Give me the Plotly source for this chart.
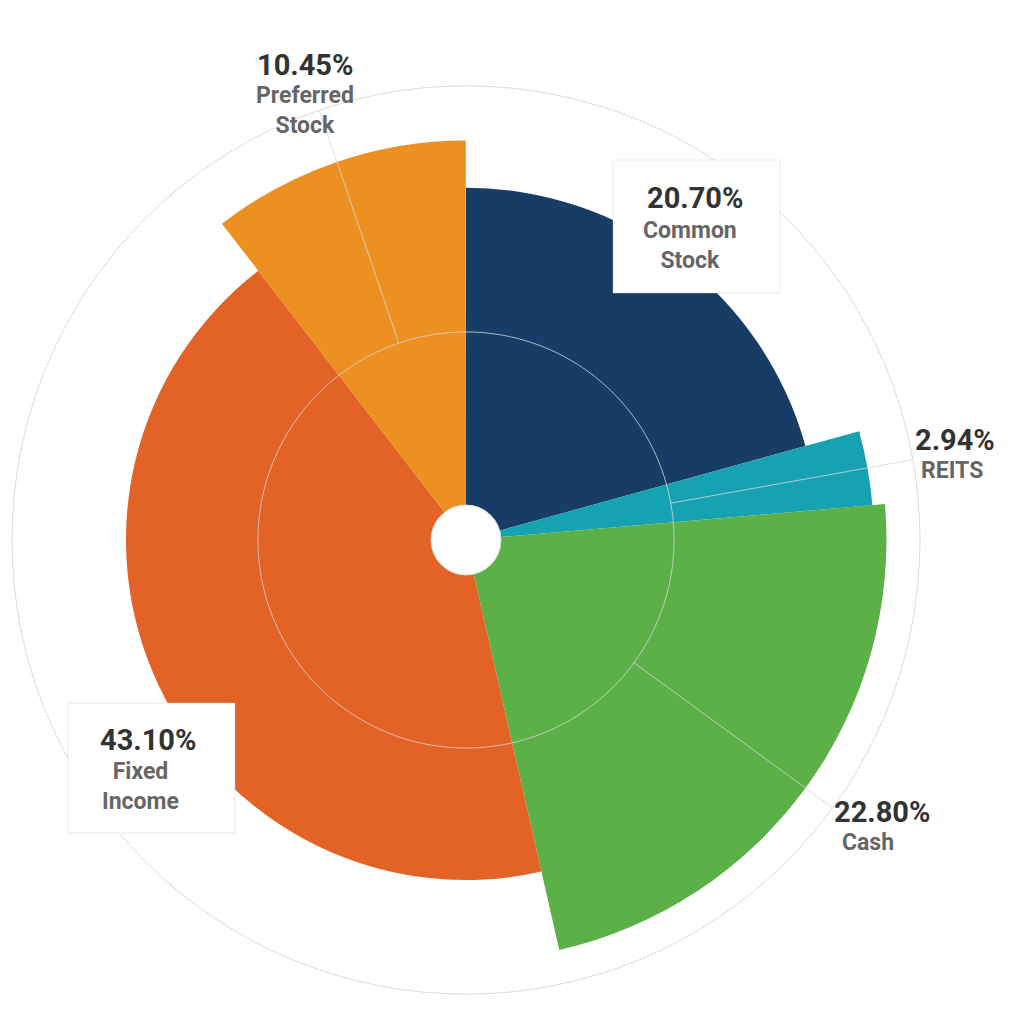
import plotly.graph_objects as go

labels = ["Common Stock", "REITS", "Cash", "Fixed Income", "Preferred Stock"]
pcts = [20.70, 2.94, 22.80, 43.10, 10.45]
radii = [75.7, 89.0, 92.0, 72.8, 87.0]
colors = ["#173C66", "#17A2B1", "#5BB147", "#E36326", "#ED9022"]

W, H = 1024, 1024
OFF = 8
cx, cy, R = 466 - OFF, 540 - OFF, 454

widths = [p * 3.6 for p in pcts]
thetas = []
acc = 0
for w in widths:
    thetas.append(acc + w / 2)
    acc += w

fig = go.Figure()
fig.add_trace(go.Barpolar(r=radii, theta=thetas, width=widths,
                          marker=dict(color=colors, line=dict(width=0)),
                          hoverinfo="skip"))
circ_t = list(range(0, 361, 2))
fig.add_trace(go.Scatterpolar(r=[41.3] * len(circ_t), theta=circ_t, mode="lines",
                              line=dict(color="rgba(215,215,215,0.8)", width=1),
                              hoverinfo="skip"))
for i in [1, 2, 4]:
    fig.add_trace(go.Scatterpolar(r=[41.3, 100], theta=[thetas[i]] * 2, mode="lines",
                                  line=dict(color="rgba(215,215,215,0.8)", width=1),
                                  hoverinfo="skip"))

fig.update_layout(
    width=W, height=H, showlegend=False, paper_bgcolor="white",
    margin=dict(l=0, r=0, t=0, b=0),
    font=dict(family="Roboto"),
    polar=dict(
        domain=dict(x=[(cx - R) / W, (cx + R) / W], y=[1 - (cy + R) / H, 1 - (cy - R) / H]),
        hole=35 / R, bgcolor="white",
        radialaxis=dict(range=[0, 100], tickvals=[100], showticklabels=False,
                        ticks="", showline=False, gridcolor="rgba(215,215,215,0.9)"),
        angularaxis=dict(rotation=90, direction="clockwise", showticklabels=False,
                         ticks="", showgrid=False, linecolor="rgba(215,215,215,0.9)"),
    ),
)

boxes = [(613, 160, 780, 293), (68, 703, 235, 833)]
for x0, y0, x1, y1 in boxes:
    fig.add_shape(type="rect", xref="paper", yref="paper",
                  x0=(x0 - OFF) / W, x1=(x1 - OFF) / W, y0=1 - (y1 - OFF) / H, y1=1 - (y0 - OFF) / H,
                  fillcolor="white", line=dict(color="rgba(200,200,200,0.4)", width=1))

ann = [
    ("20.70%", "Common<br>Stock", 695, 198, 690, 245),
    ("2.94%", "REITS", 955, 440, 952, 470),
    ("22.80%", "Cash", 882, 812, 868, 842),
    ("43.10%", "Fixed<br>Income", 148, 740, 140, 786),
    ("10.45%", "Preferred<br>Stock", 305, 65, 305, 110),
]
for pct, name, px, py, nx, ny in ann:
    fig.add_annotation(x=(px - OFF) / W, y=1 - (py - OFF) / H, xref="paper", yref="paper",
                       showarrow=False, xanchor="center", yanchor="middle",
                       text="<b>%s</b>" % pct, font=dict(size=29, color="#333333", family="Roboto"))
    fig.add_annotation(x=(nx - OFF) / W, y=1 - (ny - OFF) / H, xref="paper", yref="paper",
                       showarrow=False, xanchor="center", yanchor="middle",
                       text="<b>%s</b>" % name, font=dict(size=23, color="#666666", family="Roboto"))

fig.write_html("out.html")
